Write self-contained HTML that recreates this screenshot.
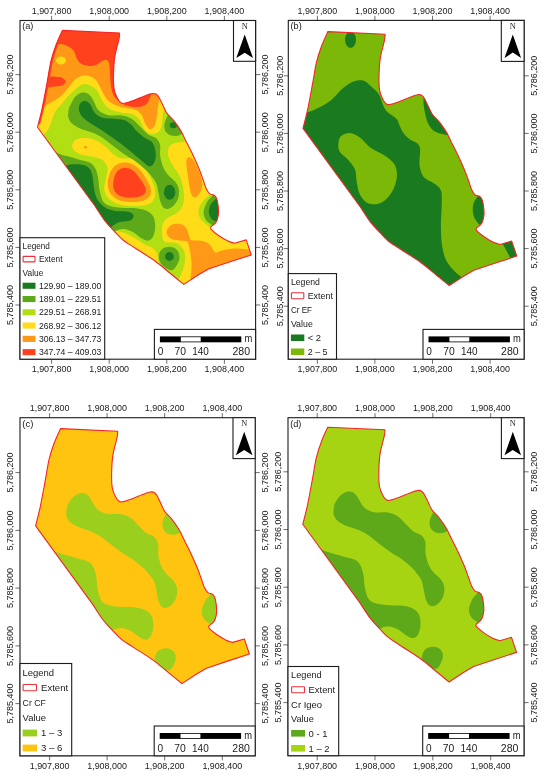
<!DOCTYPE html>
<html lang="en"><head><meta charset="utf-8"><title>Cr spatial distribution maps</title>
<style>html,body{margin:0;padding:0;background:#fff}svg{display:block}text{font-family:"Liberation Sans",Arial,sans-serif}</style></head><body>
<svg width="550" height="778" viewBox="0 0 550 778">
<defs><clipPath id="ext"><path d="M62.4,30.4L119.6,33C119.5,34 119.8,34.9 119,39C118.2,43.1 115.6,51.3 114.7,57.5C113.8,63.7 113.6,70.8 113.5,76C113.4,81.2 113.5,85.4 114.1,89C114.7,92.6 115.7,95.2 117.1,97.6C118.5,100 119.8,103 122.6,103.4C125.4,103.8 130.4,101.4 134,100.2C137.6,99 140.9,97.4 143.9,96.3C146.9,95.2 149.9,93.9 152,93.6C154.1,93.2 155.1,93.4 156.4,94.2C157.7,95 158.5,96.6 159.6,98.5C160.7,100.4 161.9,103.3 163.1,105.7C164.3,108.1 165,110.5 166.8,113.1C168.7,115.7 171.8,118.2 174.2,121.2C176.5,124.2 178.9,127.6 180.9,130.9C182.9,134.2 184,137.3 186,141.2C188,145.1 190.6,150.1 192.7,154.5C194.8,158.9 196.8,163.5 198.6,167.8C200.4,172.1 202.1,177 203.4,180.5C204.7,184 205.2,186.5 206.3,188.7C207.4,190.9 208.5,192.7 209.8,193.8C211.1,194.9 213.1,194.5 214.2,195.3C215.3,196.1 215.9,196.7 216.6,198.4C217.2,200.1 217.8,203 218.1,205.5C218.4,208 218.7,211.1 218.5,213.5C218.3,215.9 217.7,218.3 217.1,220C216.5,221.7 215.9,222.5 214.9,223.6C213.9,224.7 211.6,226.3 210.9,226.8C211,227.3 210,228.1 211.4,229.6C212.8,231.1 216.5,234.1 219.3,236C222.1,237.9 225.5,239.9 228,241.1C230.5,242.3 233.4,242.9 234.5,243.3L246.2,239.9L251.3,254.9L230.9,261.5L208.4,269L198.9,274.5L183.8,284.4C181.7,282.7 175.8,277.9 171,274C166.2,270.1 161,265.3 155,261C149,256.7 140.3,251.5 135,248C129.7,244.5 126.3,242.7 123,240C119.7,237.3 118,235.2 115,232C112,228.8 108.3,225.3 105,221C101.7,216.7 96.7,208.5 95,206L37.5,127.2C38.2,124.2 40.4,116.4 42,109C43.6,101.6 45.5,91 47,83C48.5,75 49.5,67.3 51,61C52.5,54.7 54.1,50.1 56,45C57.9,39.9 61.3,32.8 62.4,30.4Z"/></clipPath></defs>
<rect width="550" height="778" fill="#fff"/>
<g transform="translate(0,0)">
<g clip-path="url(#ext)">
<rect x="20" y="20" width="245" height="275" fill="#ffdc17"/>
<path d="M34,116C35.1,115.2 38.8,112.9 40.5,111.5C42.2,110.1 42.8,108.8 44,107.5C45.2,106.2 46.3,105.1 48,104C49.7,102.9 52.1,101.8 54,100.7C55.9,99.6 57.9,98.5 59.5,97.3C61.1,96.1 62.5,94.6 63.8,93.3C65.1,92 66.1,90.7 67.2,89.3C68.3,87.9 69.1,86.7 70.5,85C71.9,83.3 73.5,80.8 75.5,79.3C77.5,77.8 80,76.3 82.5,75.8C85,75.3 88.2,75.6 90.5,76.4C92.8,77.2 94.7,78.5 96.5,80.8C98.3,83.1 99.8,86.9 101.6,90C103.3,93.1 104.9,96.9 107,99.3C109.1,101.7 111.5,103.3 114,104.6C116.5,105.9 119.3,106.6 122,107.3C124.7,108 127.5,108 130,108.6C132.5,109.1 135,109.4 137,110.6C139,111.8 140.6,113.4 142,115.6C143.4,117.8 143.9,121.2 145.2,123.5C146.5,125.8 148.3,128.7 149.8,129.2C151.3,129.7 152.9,128.5 154,126.6C155.1,124.7 156,121.1 156.6,118C157.2,114.9 157.3,111 157.8,108C158.3,105 158.6,102.3 159.5,100C160.4,97.7 162.4,95 163,94L170,20L30,20Z" fill="#ff9717"/>
<path d="M107.6,185C107.3,181.2 108.4,175.4 110,172C111.6,168.6 114.2,166.1 117,164.5C119.8,162.9 123.5,162 127,162.6C130.5,163.2 134.8,165.3 138,168C141.2,170.7 143.8,174.8 146,178.5C148.2,182.2 150.7,186.8 151,190C151.3,193.2 150.2,196 148,198C145.8,200 142.3,201.3 138,201.8C133.7,202.3 126.4,202.1 122,201C117.6,199.9 113.9,197.7 111.5,195C109.1,192.3 107.8,188.8 107.6,185Z" fill="#ff9717"/>
<path d="M188.7,157.3C189.8,157.1 191.7,158.1 193.2,159.9C194.7,161.7 196.3,165.3 197.6,168.2C198.9,171.1 200.3,174.3 201.1,177.1C201.9,179.8 202.3,182.2 202.2,184.7C202.1,187.2 201.4,190.1 200.3,192.2C199.2,194.3 197.1,196.7 195.7,197.2C194.3,197.7 192.9,197 191.9,195.3C190.9,193.7 190.2,190.1 189.6,187.3C189,184.5 188.8,181.6 188.3,178.4C187.9,175.2 187.2,171.1 186.9,168.2C186.6,165.3 186,163 186.3,161.2C186.6,159.4 187.5,157.5 188.7,157.3Z" fill="#ff9717"/>
<path d="M166.6,232C166.7,230.2 168.1,227.8 169.5,226.5C170.9,225.2 172.8,224.3 175,224C177.2,223.7 180.5,223.9 182.5,224.8C184.5,225.7 185.9,227.6 187,229.5C188.1,231.4 188.4,234.1 189,236C189.6,237.9 191,240.2 190.5,241C190,241.8 187.8,241.1 186,241C184.2,240.9 182,240.7 180,240.5C178,240.3 175.8,240.4 174,239.8C172.2,239.2 170.2,238.3 169,237C167.8,235.7 166.5,233.8 166.6,232Z" fill="#ff9717"/>
<path d="M186.5,237C187.2,237.5 188.9,239.4 190.5,240C192.1,240.6 193.9,240.4 196,240.6C198.1,240.8 201.1,240.6 203.3,241.2C205.5,241.8 207.6,242.7 209.1,244C210.6,245.3 211.6,247.4 212.6,248.8C213.6,250.2 214,252.2 215.2,252.6C216.3,253 217.4,251.9 219.5,251.3C221.6,250.7 224.9,249.7 228,249.2C231.1,248.7 234.9,248.4 238.2,248.5C241.5,248.6 244.6,249.2 247.6,249.5C250.6,249.8 254.6,250.3 256,250.5L260,295L188,295L189.5,284C189.7,282.7 190.5,279.3 190.8,276C191.2,272.7 191.7,268.3 191.6,264.4C191.5,260.5 190.9,256.1 190.4,252.7C189.9,249.3 189.2,246.6 188.5,244C187.8,241.4 186.8,238.2 186.5,237Z" fill="#ff9717"/>
<ellipse cx="85.5" cy="147.3" rx="1.5" ry="1.2" fill="#ff9717"/>
<path d="M52,47.5C53,47 56.2,45.1 58,44.6C59.8,44.1 61,43.7 63,44.2C65,44.7 68.1,46.1 70,47.4C71.9,48.7 73.3,50 74.4,51.8C75.5,53.6 75.7,56.4 76.8,58.4C77.9,60.4 79,62.3 80.9,63.6C82.9,64.9 86,65.8 88.5,66C91,66.2 94,65.7 96.2,64.9C98.4,64.1 99.9,62.1 101.6,61.3C103.3,60.5 105.1,59.7 106.3,59.9C107.5,60.1 108.2,61 108.8,62.4C109.4,63.8 109.5,65.4 109.8,68.2C110,71 110,75.6 110.3,79.1C110.6,82.5 110.8,86 111.5,88.9C112.2,91.8 113,94.5 114.3,96.5C115.6,98.5 117.5,99.8 119.1,101.2C120.7,102.6 122.2,103.9 124,104.8C125.8,105.7 127.8,106.2 130,106.6C132.2,107 134.8,107.1 137,107C139.2,106.9 141.2,106.7 143,106C144.8,105.3 146.4,104.1 147.6,102.7C148.8,101.3 149.3,99.3 150,97.6C150.7,95.9 151.2,93.3 151.5,92.5L150,84L126,84L126,22L50,22Z" fill="#ff421d"/>
<path d="M43,76.3C44.2,76.3 47.8,76.3 50,76.4C52.2,76.5 54,76.5 56,76.7C58,76.9 60.4,77 62,77.8C63.6,78.6 65.5,80.3 65.6,81.5C65.7,82.7 64.1,84.4 62.5,85.2C60.9,86 58.1,86 56,86.3C53.9,86.6 52.3,86.9 50,87.2C47.7,87.5 43.3,87.9 42,88L38,82Z" fill="#ff421d"/>
<path d="M38.2,124C38.8,121.5 40.5,115.8 42,109C43.5,102.2 45.5,91 47,83C48.5,75 49.5,67.3 51,61C52.5,54.7 54.1,50.1 56,45C57.9,39.9 61.3,32.8 62.4,30.4" fill="none" stroke="#ff421d" stroke-width="3.8"/>
<path d="M38,138C39,137.4 42.2,136.2 44,134.5C45.8,132.8 47.7,130.4 49,128C50.3,125.6 51,122.7 52,120C53,117.3 53.3,114.8 55,112C56.7,109.2 59.5,106.4 62,103.5C64.5,100.6 67.3,97.3 70,94.6C72.7,91.8 75.4,88.8 78,87C80.6,85.2 83.2,84.1 85.5,84C87.8,83.9 89.6,85.1 91.5,86.2C93.4,87.3 95.3,88.2 97,90.5C98.7,92.8 100.2,97.1 101.7,99.7C103.2,102.3 104.4,104.3 106,106C107.6,107.7 109,108.6 111.5,109.7C114,110.8 117.9,111.8 121,112.5C124.1,113.2 127.6,113 130,113.6C132.4,114.2 133.8,114.8 135.5,116C137.2,117.2 138.6,118.4 140,120.6C141.4,122.8 142.4,126.9 144,129C145.6,131.1 147.9,132.7 149.8,133.4C151.8,134.1 154,133.9 155.7,133.3C157.4,132.7 158.9,131.9 160,130C161.1,128.1 161.7,124.8 162.2,122C162.7,119.2 162.5,115.8 163,113C163.5,110.2 163.8,107.2 165,105C166.2,102.8 169.2,100.8 170,100L178,100L200,138L190,141.6C188.7,141.7 185,141.6 182.3,141.9C179.6,142.2 176.2,142.3 174,143.2C171.8,144.1 169.8,145.4 168.8,147.5C167.9,149.6 167.8,152.8 168.3,155.5C168.8,158.2 170.5,161.2 172,164C173.5,166.8 175.7,169 177.3,172C178.9,175 180.7,178.1 181.8,181.8C182.9,185.5 183.7,190.1 183.9,194C184.1,197.9 184,201.8 182.8,205C181.7,208.2 179.5,210.9 177,213C174.5,215.1 170.3,215.9 168,217.6C165.7,219.3 164.2,220.9 163.2,223C162.2,225.1 162.2,227.7 162,230C161.8,232.3 161.9,235 162.3,237C162.7,239 163.4,240.9 164.5,241.8C165.6,242.7 167.4,242.5 169,242.6C170.6,242.7 172.2,242.2 174,242.6C175.8,243 177.9,243.7 179.5,245C181.1,246.3 182.8,248.3 183.8,250.5C184.8,252.7 185.3,255.1 185.3,258C185.3,260.9 184.4,265 183.6,268C182.8,271 181.4,273.7 180.3,276C179.2,278.3 177.6,281 177,282L168,288L150,268L160.5,266C160.1,265.2 158.9,263.1 158.3,261C157.7,258.9 157.9,255.6 157,253.5C156.1,251.4 155,249.8 153,248.3C151,246.9 148,246.5 145,244.8C142,243.1 138.3,240.2 135,238.3C131.7,236.4 128.1,234.5 125,233.3C121.9,232.1 119,231.1 116.5,231C114,230.9 111.1,232.7 110,233L98,232L30,130Z" fill="#b2de14"/>
<path d="M213,191C212.5,191.6 211.4,192.9 209.8,194.5C208.2,196.1 205.4,198 203.5,200.5C201.6,203 199.2,206.6 198.6,209.5C198,212.4 198.7,215.5 200,218C201.3,220.5 204.5,222.8 206.5,224.6C208.5,226.4 211.1,228.3 212,229L224,230L224,188Z" fill="#b2de14"/>
<path d="M72.2,145C72.5,143.2 73.7,141 76,139.8C78.3,138.6 82.5,137.6 86,137.8C89.5,138 93.7,139.5 97,141C100.3,142.5 103.3,144.8 106,147C108.7,149.2 110.5,152.1 113,154C115.5,155.9 117.8,157.5 121,158.3C124.2,159.1 128.6,157.4 132,158.6C135.4,159.8 138.7,162.8 141.5,165.5C144.3,168.2 146.9,171.4 149,175C151.1,178.6 153.2,183.3 154.2,187C155.2,190.7 155.7,194.2 154.8,197C153.9,199.8 152.1,202.5 149,204C145.9,205.5 140.8,205.9 136,206C131.2,206.1 124.6,205.8 120,204.5C115.4,203.2 111.1,201.1 108.5,198.5C105.9,195.9 104.7,192.4 104.3,189C103.9,185.6 105.5,181.4 106,178C106.5,174.6 108.1,171.4 107.6,168.5C107.1,165.6 105.4,162.2 103,160.3C100.6,158.4 96.7,157.8 93,156.8C89.3,155.8 84.2,155.6 81,154.5C77.8,153.4 75.5,151.9 74,150.3C72.5,148.7 71.9,146.8 72.2,145Z" fill="#ffdc17"/>
<path d="M107.8,185C107.5,181.2 108.7,175.9 110.2,172.5C111.7,169.1 114.2,166.2 117,164.5C119.8,162.8 123.5,162 127,162.6C130.5,163.2 134.8,165.3 138,168C141.2,170.7 143.8,174.8 146,178.5C148.2,182.2 150.7,186.8 151,190C151.3,193.2 150.2,196 148,198C145.8,200 142.3,201.3 138,201.8C133.7,202.3 126.4,202.1 122,201C117.6,199.9 114.1,197.7 111.7,195C109.3,192.3 108,188.8 107.8,185Z" fill="#ff9717"/>
<path d="M113.2,184C113.4,180.8 114.5,175.2 116.3,172.5C118.1,169.8 121.4,168.2 124,167.8C126.6,167.4 129.4,168 132,169.8C134.6,171.6 137.5,175.4 139.8,178.5C142.1,181.6 145,185.8 145.6,188.5C146.2,191.2 145.4,193.3 143.5,194.8C141.6,196.3 137.6,197.3 134,197.6C130.4,197.9 125.1,197.3 122,196.4C118.9,195.5 116.7,194.1 115.2,192C113.7,189.9 113,187.2 113.2,184Z" fill="#ff421d"/>
<ellipse cx="85.5" cy="147.3" rx="1.6" ry="1.3" fill="#ff9717"/>
<path d="M68.2,114C68.3,112.3 68.5,109.8 69,108C69.5,106.2 70.6,104.7 71.5,103C72.4,101.3 73.3,99.1 74.5,97.6C75.7,96.1 77.3,94.7 78.8,93.8C80.3,92.9 82,92.4 83.5,92.4C85,92.4 86.6,92.9 88,93.8C89.4,94.7 90.7,96.2 91.8,97.8C92.9,99.4 93.8,101.5 94.8,103.4C95.8,105.3 96.2,107.4 97.5,109C98.8,110.6 100.4,111.9 102.5,113C104.6,114.1 106.8,115.1 110,115.5C113.2,115.9 118.3,114.8 122,115.4C125.7,116 128.9,117 132,118.9C135.1,120.8 137.8,124.4 140.5,127C143.2,129.6 145.5,132.6 148,134.4C150.5,136.2 153.5,136.1 155.5,137.8C157.5,139.5 159.2,141.5 160,144.5C160.8,147.5 159.6,152.1 160.2,156C160.8,159.9 162,164.7 163.5,168C165,171.3 167,173.7 169,176C171,178.3 173.9,179.8 175.5,182C177.1,184.2 178.3,186.5 178.8,189C179.3,191.5 179.1,194.5 178.5,197C177.9,199.5 176.5,202.1 175,204C173.5,205.9 171.3,207.8 169.5,208.5C167.7,209.2 165.5,209.1 164,208C162.5,206.9 161.4,204.5 160.5,202C159.6,199.5 159.2,196 158.5,193C157.8,190 157.5,186.6 156.5,184C155.5,181.4 154.1,179.7 152.5,177.5C150.9,175.3 149.6,173.5 147,171C144.4,168.5 140.8,165.2 137,162.4C133.2,159.6 128.2,156.9 124,154C119.8,151.1 115.7,147.8 112,145C108.3,142.2 105.3,139.6 102,137.5C98.7,135.4 95.7,134 92,132.5C88.3,131 83.3,130 80,128.5C76.7,127 73.9,125.2 72,123.5C70.1,121.8 69.1,119.6 68.5,118C67.9,116.4 68.1,115.7 68.2,114Z" fill="#5da919"/>
<path d="M52,148C52.9,148.8 54.8,151.6 57.3,152.9C59.8,154.2 63.1,155 66.8,156.1C70.5,157.2 75.7,158.6 79.5,159.7C83.3,160.8 86.9,161.2 89.5,162.6C92.1,164 93.6,165.6 95,168C96.4,170.4 97.2,173.3 98,177C98.8,180.7 98.6,185.8 99.5,190C100.4,194.2 101.4,199.2 103.5,202C105.6,204.8 108.6,205.5 112,206.5C115.4,207.5 120,207.7 124,208C128,208.3 132.2,207.8 136,208.3C139.8,208.8 144.1,209.6 147,211C149.9,212.4 152.1,214.3 153.5,217C154.9,219.7 155.2,223.8 155.2,227C155.2,230.2 154.4,233.7 153.3,236C152.2,238.3 150.5,240.2 148.5,240.6C146.5,241 144.1,239.7 141.5,238.3C138.9,236.9 136,233.6 133,232C130,230.4 126.2,229.2 123.5,229C120.8,228.8 118.4,229.8 116.5,230.5C114.6,231.2 112.8,232.6 112,233L100,232L45,150Z" fill="#5da919"/>
<path d="M170,111C169.6,111.9 168.1,114.8 167.3,116.5C166.5,118.2 165.5,119.7 165,121.5C164.5,123.3 164.1,125.5 164.3,127.2C164.5,128.9 165,130.7 166,132C167,133.3 168.8,134.6 170.5,135.3C172.2,136 174.2,136.1 176,136C177.8,135.9 179.5,135.3 181,134.6C182.5,133.9 184.3,132.4 185,132L190,125L178,108Z" fill="#5da919"/>
<path d="M214,192.5C213.6,193.2 212.7,194.9 211.5,196.5C210.3,198.1 208.3,199.4 207,202C205.7,204.6 203.8,209 203.6,212C203.4,215 204.7,217.9 206,220C207.3,222.1 209.9,223.3 211.3,224.4C212.7,225.5 214,226.2 214.5,226.5L224,228L224,190Z" fill="#5da919"/>
<path d="M158.8,255C159.1,252.9 160.3,250.6 162,249.2C163.7,247.8 166.6,246.9 168.7,246.7C170.8,246.5 172.9,247.1 174.5,248C176.1,248.9 177.5,250.2 178.3,252C179.1,253.8 179.8,256.5 179.4,259C179,261.5 177.1,264.9 175.8,266.8C174.5,268.7 173.3,270.2 171.5,270.3C169.7,270.4 166.9,269 165,267.6C163.1,266.2 161,264.1 160,262C159,259.9 158.5,257.1 158.8,255Z" fill="#5da919"/>
<path d="M79,107C79.3,105.5 80,103.5 81,102.5C82,101.5 83.5,100.8 85,101C86.5,101.2 88.4,102.1 90,104C91.6,105.9 92.4,110.2 94.5,112.5C96.6,114.8 99.2,116.8 102.5,117.8C105.8,118.8 110.4,118.4 114,118.8C117.6,119.2 121.2,119 124,120C126.8,121 128.8,122.7 131,124.6C133.2,126.5 134.8,129.5 137,131.6C139.2,133.7 141.6,135.7 144,137.4C146.4,139.1 149.7,139.7 151.5,141.6C153.3,143.5 154.3,146.3 155,149C155.7,151.7 156,155.3 155.6,158C155.2,160.7 153.9,163.7 152.6,165C151.3,166.3 150.1,166.8 148,165.8C145.9,164.8 143,161.7 140,159.2C137,156.7 133.3,153.7 130,151C126.7,148.3 123.3,145.5 120,143C116.7,140.5 113.3,138.3 110,136C106.7,133.7 103.3,131.2 100,129C96.7,126.8 92.9,125 90,123C87.1,121 84.3,118.9 82.5,117C80.7,115.1 79.9,113.2 79.3,111.5C78.7,109.8 78.7,108.5 79,107Z" fill="#1a7a1f"/>
<path d="M59,168C60.2,167.6 63.5,165.9 66,165.3C68.5,164.7 71.1,164.2 74,164.2C76.9,164.1 80.9,164.2 83.5,165C86.1,165.8 88.3,167 89.8,169C91.3,171 91.9,173.7 92.6,177C93.3,180.3 93.5,185.4 94.2,189C94.9,192.6 95.2,195.5 96.8,198.5C98.4,201.5 101.1,204.8 104,206.8C106.9,208.9 110.3,210 114,210.8C117.7,211.6 123.1,211.2 126,211.6C128.9,212 130.2,212.2 131.5,213C132.8,213.8 133.8,215.2 133.6,216.5C133.3,217.8 132.4,219.5 130,220.5C127.6,221.5 121.9,221.4 119,222.3C116.1,223.2 114.3,224.7 112.5,226C110.7,227.3 108.8,229.3 108,230L98,230L55,168Z" fill="#1a7a1f"/>
<ellipse cx="169.6" cy="192.2" rx="5.7" ry="7.5" fill="#1a7a1f"/>
<ellipse cx="173.4" cy="125.2" rx="3.7" ry="3" fill="#1a7a1f"/>
<ellipse cx="169.4" cy="256.5" rx="4.4" ry="4.4" fill="#1a7a1f"/>
<path d="M217,197.5C216.6,197.9 215.7,198.8 214.6,200C213.5,201.2 211.5,203.1 210.5,205C209.5,206.9 208.9,209.4 208.8,211.3C208.7,213.2 209.3,215.1 210,216.5C210.7,217.9 211.6,219.2 212.8,220C214,220.8 216.3,221.2 217,221.5L224,222L224,196Z" fill="#1a7a1f"/>
<ellipse cx="61" cy="60.5" rx="5" ry="4" fill="#ffdc17"/>
</g>
<path d="M62.4,30.4L119.6,33C119.5,34 119.8,34.9 119,39C118.2,43.1 115.6,51.3 114.7,57.5C113.8,63.7 113.6,70.8 113.5,76C113.4,81.2 113.5,85.4 114.1,89C114.7,92.6 115.7,95.2 117.1,97.6C118.5,100 119.8,103 122.6,103.4C125.4,103.8 130.4,101.4 134,100.2C137.6,99 140.9,97.4 143.9,96.3C146.9,95.2 149.9,93.9 152,93.6C154.1,93.2 155.1,93.4 156.4,94.2C157.7,95 158.5,96.6 159.6,98.5C160.7,100.4 161.9,103.3 163.1,105.7C164.3,108.1 165,110.5 166.8,113.1C168.7,115.7 171.8,118.2 174.2,121.2C176.5,124.2 178.9,127.6 180.9,130.9C182.9,134.2 184,137.3 186,141.2C188,145.1 190.6,150.1 192.7,154.5C194.8,158.9 196.8,163.5 198.6,167.8C200.4,172.1 202.1,177 203.4,180.5C204.7,184 205.2,186.5 206.3,188.7C207.4,190.9 208.5,192.7 209.8,193.8C211.1,194.9 213.1,194.5 214.2,195.3C215.3,196.1 215.9,196.7 216.6,198.4C217.2,200.1 217.8,203 218.1,205.5C218.4,208 218.7,211.1 218.5,213.5C218.3,215.9 217.7,218.3 217.1,220C216.5,221.7 215.9,222.5 214.9,223.6C213.9,224.7 211.6,226.3 210.9,226.8C211,227.3 210,228.1 211.4,229.6C212.8,231.1 216.5,234.1 219.3,236C222.1,237.9 225.5,239.9 228,241.1C230.5,242.3 233.4,242.9 234.5,243.3L246.2,239.9L251.3,254.9L230.9,261.5L208.4,269L198.9,274.5L183.8,284.4C181.7,282.7 175.8,277.9 171,274C166.2,270.1 161,265.3 155,261C149,256.7 140.3,251.5 135,248C129.7,244.5 126.3,242.7 123,240C119.7,237.3 118,235.2 115,232C112,228.8 108.3,225.3 105,221C101.7,216.7 96.7,208.5 95,206L37.5,127.2C38.2,124.2 40.4,116.4 42,109C43.6,101.6 45.5,91 47,83C48.5,75 49.5,67.3 51,61C52.5,54.7 54.1,50.1 56,45C57.9,39.9 61.3,32.8 62.4,30.4Z" fill="none" stroke="#f5242c" stroke-width="1.1" stroke-linejoin="round"/>
</g>
<g transform="translate(265.5,1.2)">
<g clip-path="url(#ext)">
<rect x="20" y="20" width="245" height="275" fill="#7bb807"/>
<path d="M32.5,114.8C33.9,114.3 37.7,112.9 41,111.6C44.3,110.3 48.5,108.8 52.5,106.8C56.5,104.8 61,102.7 65.2,99.3C69.4,95.9 74.1,89.8 77.9,86.6C81.7,83.4 84.7,81.5 88.1,80.3C91.5,79.1 95.1,78.5 98.3,79.5C101.5,80.5 104.8,84.5 107.2,86.6C109.6,88.7 111.4,90.4 112.8,92.3C114.2,94.2 114.8,96 115.5,97.8C116.2,99.6 116.5,101.4 117.3,103.3C118.1,105.2 119.1,107.6 120.5,109.3C121.9,111 123.7,112.1 125.5,113.6C127.3,115 129.9,116.2 131.3,118C132.8,119.8 133.1,122.2 134.2,124.5C135.3,126.8 136.2,129.5 137.9,131.8C139.6,134.1 142.1,136.6 144.4,138.3C146.7,140 150,140.4 151.7,142C153.4,143.6 154.2,145.4 154.6,147.8C155,150.2 154.2,153.6 154.1,156.5C154.1,159.4 153.6,162.3 154.3,165.5C155,168.7 155.8,172.9 158.1,175.7C160.4,178.5 165.4,179.9 168.3,182.1C171.2,184.4 174.1,185.7 175.4,189.2C176.7,192.7 176.2,197.2 176.2,203.3C176.2,209.4 175.3,218.9 175.4,226C175.5,233.1 175.9,240.2 176.8,245.8C177.7,251.5 179,255.9 181,259.9C183,263.9 186.3,267.2 188.7,269.8C191.1,272.4 194.4,274.4 195.5,275.3L186.5,298.8L64.5,283.8L19.5,138.8Z" fill="#1a7a1f"/>
<path d="M72.9,142.6C73.1,140.1 73.5,136.8 75.4,135C77.3,133.2 81.1,131.7 84.3,131.9C87.5,132.1 91.1,133.9 94.5,136.3C97.9,138.7 100.7,143.4 104.7,146.4C108.7,149.4 114.7,151.3 118.7,154.1C122.7,156.9 126.8,159.4 128.9,163C131,166.6 131.8,171 131.4,175.7C131,180.4 128.8,186.8 126.3,191C123.8,195.2 119.9,199.3 116.1,201.2C112.3,203.1 107,203.7 103.4,202.4C99.8,201.1 96.5,197.1 94.5,193.5C92.5,189.9 92,185 91.2,180.8C90.3,176.6 91,171.9 89.4,168.1C87.8,164.3 84.4,160.9 81.8,157.9C79.3,154.9 75.6,152.8 74.1,150.2C72.6,147.7 72.7,145.1 72.9,142.6Z" fill="#7bb807"/>
<ellipse cx="85" cy="38.6" rx="5.5" ry="8.2" fill="#1a7a1f"/>
<path d="M158.1,92.8C158.1,94.5 157.9,99.6 158.1,102.8C158.3,106 158.8,108.8 159.5,111.8C160.2,114.8 160.8,118 162,120.8C163.2,123.6 165.1,126.7 167,128.6C168.9,130.5 171.1,131.1 173.5,132C175.9,132.9 180.2,133.5 181.5,133.8L190.5,132.8L170.5,94.8Z" fill="#1a7a1f"/>
<path d="M215.5,191.8C214.9,192.4 213.3,193.7 212.1,195.4C210.9,197.1 209,199.5 208.2,201.8C207.4,204.1 207.2,206.5 207.3,209C207.4,211.5 207.9,214.5 209,216.8C210.1,219.2 212.2,221.4 213.6,223.1C215,224.8 216.8,226.2 217.5,226.8L226.5,226.8L226.5,190.8Z" fill="#1a7a1f"/>
<path d="M236.8,241.8L246.5,259.8L264.5,259.8L264.5,234.8Z" fill="#1a7a1f"/>
</g>
<path d="M62.4,30.4L119.6,33C119.5,34 119.8,34.9 119,39C118.2,43.1 115.6,51.3 114.7,57.5C113.8,63.7 113.6,70.8 113.5,76C113.4,81.2 113.5,85.4 114.1,89C114.7,92.6 115.7,95.2 117.1,97.6C118.5,100 119.8,103 122.6,103.4C125.4,103.8 130.4,101.4 134,100.2C137.6,99 140.9,97.4 143.9,96.3C146.9,95.2 149.9,93.9 152,93.6C154.1,93.2 155.1,93.4 156.4,94.2C157.7,95 158.5,96.6 159.6,98.5C160.7,100.4 161.9,103.3 163.1,105.7C164.3,108.1 165,110.5 166.8,113.1C168.7,115.7 171.8,118.2 174.2,121.2C176.5,124.2 178.9,127.6 180.9,130.9C182.9,134.2 184,137.3 186,141.2C188,145.1 190.6,150.1 192.7,154.5C194.8,158.9 196.8,163.5 198.6,167.8C200.4,172.1 202.1,177 203.4,180.5C204.7,184 205.2,186.5 206.3,188.7C207.4,190.9 208.5,192.7 209.8,193.8C211.1,194.9 213.1,194.5 214.2,195.3C215.3,196.1 215.9,196.7 216.6,198.4C217.2,200.1 217.8,203 218.1,205.5C218.4,208 218.7,211.1 218.5,213.5C218.3,215.9 217.7,218.3 217.1,220C216.5,221.7 215.9,222.5 214.9,223.6C213.9,224.7 211.6,226.3 210.9,226.8C211,227.3 210,228.1 211.4,229.6C212.8,231.1 216.5,234.1 219.3,236C222.1,237.9 225.5,239.9 228,241.1C230.5,242.3 233.4,242.9 234.5,243.3L246.2,239.9L251.3,254.9L230.9,261.5L208.4,269L198.9,274.5L183.8,284.4C181.7,282.7 175.8,277.9 171,274C166.2,270.1 161,265.3 155,261C149,256.7 140.3,251.5 135,248C129.7,244.5 126.3,242.7 123,240C119.7,237.3 118,235.2 115,232C112,228.8 108.3,225.3 105,221C101.7,216.7 96.7,208.5 95,206L37.5,127.2C38.2,124.2 40.4,116.4 42,109C43.6,101.6 45.5,91 47,83C48.5,75 49.5,67.3 51,61C52.5,54.7 54.1,50.1 56,45C57.9,39.9 61.3,32.8 62.4,30.4Z" fill="none" stroke="#f5242c" stroke-width="1.1" stroke-linejoin="round"/>
</g>
<g transform="translate(-1.9,398.1) scale(1,1.004)">
<g clip-path="url(#ext)">
<rect x="20" y="20" width="245" height="275" fill="#ffc40f"/>
<path d="M68.2,114C68.3,112.3 68.5,109.8 69,108C69.5,106.2 70.5,104.5 71.5,103C72.5,101.5 73.7,100 75,98.8C76.3,97.6 78,96.3 79.5,95.6C81,94.9 82.6,94.4 84,94.4C85.4,94.4 86.8,94.7 88,95.5C89.2,96.3 90.4,97.6 91.5,99C92.6,100.4 93.5,102.3 94.5,104C95.5,105.7 96.2,107.5 97.5,109C98.8,110.5 100.4,111.9 102.5,113C104.6,114.1 106.8,115.1 110,115.5C113.2,115.9 118.3,114.8 122,115.4C125.7,116 128.9,117 132,118.9C135.1,120.8 137.8,124.4 140.5,127C143.2,129.6 145.5,132.6 148,134.4C150.5,136.2 153.5,136.1 155.5,137.8C157.5,139.5 159.2,141.5 160,144.5C160.8,147.5 159.6,152.1 160.2,156C160.8,159.9 162,164.7 163.5,168C165,171.3 167,173.7 169,176C171,178.3 173.9,179.8 175.5,182C177.1,184.2 178.3,186.5 178.8,189C179.3,191.5 179.1,194.5 178.5,197C177.9,199.5 176.5,202.1 175,204C173.5,205.9 171.3,207.8 169.5,208.5C167.7,209.2 165.5,209.1 164,208C162.5,206.9 161.4,204.5 160.5,202C159.6,199.5 159.2,196 158.5,193C157.8,190 157.5,186.6 156.5,184C155.5,181.4 154.1,179.7 152.5,177.5C150.9,175.3 149.6,173.5 147,171C144.4,168.5 140.8,165.2 137,162.4C133.2,159.6 128.2,156.9 124,154C119.8,151.1 115.7,147.8 112,145C108.3,142.2 105.3,139.6 102,137.5C98.7,135.4 95.7,134 92,132.5C88.3,131 83.3,130 80,128.5C76.7,127 73.9,125.2 72,123.5C70.1,121.8 69.1,119.6 68.5,118C67.9,116.4 68.1,115.7 68.2,114Z" fill="#9bcf1e"/>
<path d="M52,148C52.9,148.8 54.8,151.6 57.3,152.9C59.8,154.2 63.1,155 66.8,156.1C70.5,157.2 75.7,158.6 79.5,159.7C83.3,160.8 86.9,161.2 89.5,162.6C92.1,164 93.6,165.6 95,168C96.4,170.4 97.2,173.3 98,177C98.8,180.7 98.6,185.8 99.5,190C100.4,194.2 101.4,199.2 103.5,202C105.6,204.8 108.6,205.5 112,206.5C115.4,207.5 120,207.7 124,208C128,208.3 132.2,207.8 136,208.3C139.8,208.8 144.1,209.6 147,211C149.9,212.4 152.1,214.3 153.5,217C154.9,219.7 155.2,223.8 155.2,227C155.2,230.2 154.4,233.7 153.3,236C152.2,238.3 150.5,240.2 148.5,240.6C146.5,241 144.1,239.7 141.5,238.3C138.9,236.9 136,233.6 133,232C130,230.4 126.2,229.2 123.5,229C120.8,228.8 118.4,229.8 116.5,230.5C114.6,231.2 112.8,232.6 112,233L100,232L45,150Z" fill="#9bcf1e"/>
<path d="M170,111C169.6,111.9 168.1,114.8 167.3,116.5C166.5,118.2 165.5,119.7 165,121.5C164.5,123.3 164.1,125.5 164.3,127.2C164.5,128.9 165,130.7 166,132C167,133.3 168.8,134.6 170.5,135.3C172.2,136 174.2,136.1 176,136C177.8,135.9 179.5,135.3 181,134.6C182.5,133.9 184.3,132.4 185,132L190,125L178,108Z" fill="#9bcf1e"/>
<path d="M214,192.5C213.6,193.2 212.7,194.9 211.5,196.5C210.3,198.1 208.3,199.4 207,202C205.7,204.6 203.8,209 203.6,212C203.4,215 204.7,217.9 206,220C207.3,222.1 209.9,223.3 211.3,224.4C212.7,225.5 214,226.2 214.5,226.5L224,228L224,190Z" fill="#9bcf1e"/>
<path d="M157.5,256C158.1,254.1 159,252.6 160.5,251.5C162,250.4 164.5,249.5 166.5,249.3C168.5,249.1 170.8,249.4 172.5,250.2C174.2,251 175.8,252.4 176.6,254C177.4,255.6 177.9,257.9 177.6,260C177.3,262.1 176,264.7 175,266.5C174,268.3 173.2,270.4 171.5,271C169.8,271.6 167.4,271.3 165,270C162.6,268.7 158.2,265.3 157,263C155.8,260.7 156.9,257.9 157.5,256Z" fill="#9bcf1e"/>
</g>
<path d="M62.4,30.4L119.6,33C119.5,34 119.8,34.9 119,39C118.2,43.1 115.6,51.3 114.7,57.5C113.8,63.7 113.6,70.8 113.5,76C113.4,81.2 113.5,85.4 114.1,89C114.7,92.6 115.7,95.2 117.1,97.6C118.5,100 119.8,103 122.6,103.4C125.4,103.8 130.4,101.4 134,100.2C137.6,99 140.9,97.4 143.9,96.3C146.9,95.2 149.9,93.9 152,93.6C154.1,93.2 155.1,93.4 156.4,94.2C157.7,95 158.5,96.6 159.6,98.5C160.7,100.4 161.9,103.3 163.1,105.7C164.3,108.1 165,110.5 166.8,113.1C168.7,115.7 171.8,118.2 174.2,121.2C176.5,124.2 178.9,127.6 180.9,130.9C182.9,134.2 184,137.3 186,141.2C188,145.1 190.6,150.1 192.7,154.5C194.8,158.9 196.8,163.5 198.6,167.8C200.4,172.1 202.1,177 203.4,180.5C204.7,184 205.2,186.5 206.3,188.7C207.4,190.9 208.5,192.7 209.8,193.8C211.1,194.9 213.1,194.5 214.2,195.3C215.3,196.1 215.9,196.7 216.6,198.4C217.2,200.1 217.8,203 218.1,205.5C218.4,208 218.7,211.1 218.5,213.5C218.3,215.9 217.7,218.3 217.1,220C216.5,221.7 215.9,222.5 214.9,223.6C213.9,224.7 211.6,226.3 210.9,226.8C211,227.3 210,228.1 211.4,229.6C212.8,231.1 216.5,234.1 219.3,236C222.1,237.9 225.5,239.9 228,241.1C230.5,242.3 233.4,242.9 234.5,243.3L246.2,239.9L251.3,254.9L230.9,261.5L208.4,269L198.9,274.5L183.8,284.4C181.7,282.7 175.8,277.9 171,274C166.2,270.1 161,265.3 155,261C149,256.7 140.3,251.5 135,248C129.7,244.5 126.3,242.7 123,240C119.7,237.3 118,235.2 115,232C112,228.8 108.3,225.3 105,221C101.7,216.7 96.7,208.5 95,206L37.5,127.2C38.2,124.2 40.4,116.4 42,109C43.6,101.6 45.5,91 47,83C48.5,75 49.5,67.3 51,61C52.5,54.7 54.1,50.1 56,45C57.9,39.9 61.3,32.8 62.4,30.4Z" fill="none" stroke="#f5242c" stroke-width="1.1" stroke-linejoin="round"/>
</g>
<g transform="translate(265.3,396.7) scale(1,1.003)">
<g clip-path="url(#ext)">
<rect x="20" y="20" width="245" height="275" fill="#a6d412"/>
<path d="M68.2,114C68.3,112.3 68.5,109.8 69,108C69.5,106.2 70.5,104.5 71.5,103C72.5,101.5 73.7,100 75,98.8C76.3,97.6 78,96.3 79.5,95.6C81,94.9 82.6,94.4 84,94.4C85.4,94.4 86.8,94.7 88,95.5C89.2,96.3 90.4,97.6 91.5,99C92.6,100.4 93.5,102.3 94.5,104C95.5,105.7 96.2,107.5 97.5,109C98.8,110.5 100.4,111.9 102.5,113C104.6,114.1 106.8,115.1 110,115.5C113.2,115.9 118.3,114.8 122,115.4C125.7,116 128.9,117 132,118.9C135.1,120.8 137.8,124.4 140.5,127C143.2,129.6 145.5,132.6 148,134.4C150.5,136.2 153.5,136.1 155.5,137.8C157.5,139.5 159.2,141.5 160,144.5C160.8,147.5 159.6,152.1 160.2,156C160.8,159.9 162,164.7 163.5,168C165,171.3 167,173.7 169,176C171,178.3 173.9,179.8 175.5,182C177.1,184.2 178.3,186.5 178.8,189C179.3,191.5 179.1,194.5 178.5,197C177.9,199.5 176.5,202.1 175,204C173.5,205.9 171.3,207.8 169.5,208.5C167.7,209.2 165.5,209.1 164,208C162.5,206.9 161.4,204.5 160.5,202C159.6,199.5 159.2,196 158.5,193C157.8,190 157.5,186.6 156.5,184C155.5,181.4 154.1,179.7 152.5,177.5C150.9,175.3 149.6,173.5 147,171C144.4,168.5 140.8,165.2 137,162.4C133.2,159.6 128.2,156.9 124,154C119.8,151.1 115.7,147.8 112,145C108.3,142.2 105.3,139.6 102,137.5C98.7,135.4 95.7,134 92,132.5C88.3,131 83.3,130 80,128.5C76.7,127 73.9,125.2 72,123.5C70.1,121.8 69.1,119.6 68.5,118C67.9,116.4 68.1,115.7 68.2,114Z" fill="#5da919"/>
<path d="M52,148C52.9,148.8 54.8,151.6 57.3,152.9C59.8,154.2 63.1,155 66.8,156.1C70.5,157.2 75.7,158.6 79.5,159.7C83.3,160.8 86.9,161.2 89.5,162.6C92.1,164 93.6,165.6 95,168C96.4,170.4 97.2,173.3 98,177C98.8,180.7 98.6,185.8 99.5,190C100.4,194.2 101.4,199.2 103.5,202C105.6,204.8 108.6,205.5 112,206.5C115.4,207.5 120,207.7 124,208C128,208.3 132.2,207.8 136,208.3C139.8,208.8 144.1,209.6 147,211C149.9,212.4 152.1,214.3 153.5,217C154.9,219.7 155.2,223.8 155.2,227C155.2,230.2 154.4,233.7 153.3,236C152.2,238.3 150.5,240.2 148.5,240.6C146.5,241 144.1,239.7 141.5,238.3C138.9,236.9 136,233.6 133,232C130,230.4 126.2,229.2 123.5,229C120.8,228.8 118.4,229.8 116.5,230.5C114.6,231.2 112.8,232.6 112,233L100,232L45,150Z" fill="#5da919"/>
<path d="M170,111C169.6,111.9 168.1,114.8 167.3,116.5C166.5,118.2 165.5,119.7 165,121.5C164.5,123.3 164.1,125.5 164.3,127.2C164.5,128.9 165,130.7 166,132C167,133.3 168.8,134.6 170.5,135.3C172.2,136 174.2,136.1 176,136C177.8,135.9 179.5,135.3 181,134.6C182.5,133.9 184.3,132.4 185,132L190,125L178,108Z" fill="#5da919"/>
<path d="M214,192.5C213.6,193.2 212.7,194.9 211.5,196.5C210.3,198.1 208.3,199.4 207,202C205.7,204.6 203.8,209 203.6,212C203.4,215 204.7,217.9 206,220C207.3,222.1 209.9,223.3 211.3,224.4C212.7,225.5 214,226.2 214.5,226.5L224,228L224,190Z" fill="#5da919"/>
<path d="M157.5,256C158.1,254.1 159,252.6 160.5,251.5C162,250.4 164.5,249.5 166.5,249.3C168.5,249.1 170.8,249.4 172.5,250.2C174.2,251 175.8,252.4 176.6,254C177.4,255.6 177.9,257.9 177.6,260C177.3,262.1 176,264.7 175,266.5C174,268.3 173.2,270.4 171.5,271C169.8,271.6 167.4,271.3 165,270C162.6,268.7 158.2,265.3 157,263C155.8,260.7 156.9,257.9 157.5,256Z" fill="#5da919"/>
</g>
<path d="M62.4,30.4L119.6,33C119.5,34 119.8,34.9 119,39C118.2,43.1 115.6,51.3 114.7,57.5C113.8,63.7 113.6,70.8 113.5,76C113.4,81.2 113.5,85.4 114.1,89C114.7,92.6 115.7,95.2 117.1,97.6C118.5,100 119.8,103 122.6,103.4C125.4,103.8 130.4,101.4 134,100.2C137.6,99 140.9,97.4 143.9,96.3C146.9,95.2 149.9,93.9 152,93.6C154.1,93.2 155.1,93.4 156.4,94.2C157.7,95 158.5,96.6 159.6,98.5C160.7,100.4 161.9,103.3 163.1,105.7C164.3,108.1 165,110.5 166.8,113.1C168.7,115.7 171.8,118.2 174.2,121.2C176.5,124.2 178.9,127.6 180.9,130.9C182.9,134.2 184,137.3 186,141.2C188,145.1 190.6,150.1 192.7,154.5C194.8,158.9 196.8,163.5 198.6,167.8C200.4,172.1 202.1,177 203.4,180.5C204.7,184 205.2,186.5 206.3,188.7C207.4,190.9 208.5,192.7 209.8,193.8C211.1,194.9 213.1,194.5 214.2,195.3C215.3,196.1 215.9,196.7 216.6,198.4C217.2,200.1 217.8,203 218.1,205.5C218.4,208 218.7,211.1 218.5,213.5C218.3,215.9 217.7,218.3 217.1,220C216.5,221.7 215.9,222.5 214.9,223.6C213.9,224.7 211.6,226.3 210.9,226.8C211,227.3 210,228.1 211.4,229.6C212.8,231.1 216.5,234.1 219.3,236C222.1,237.9 225.5,239.9 228,241.1C230.5,242.3 233.4,242.9 234.5,243.3L246.2,239.9L251.3,254.9L230.9,261.5L208.4,269L198.9,274.5L183.8,284.4C181.7,282.7 175.8,277.9 171,274C166.2,270.1 161,265.3 155,261C149,256.7 140.3,251.5 135,248C129.7,244.5 126.3,242.7 123,240C119.7,237.3 118,235.2 115,232C112,228.8 108.3,225.3 105,221C101.7,216.7 96.7,208.5 95,206L37.5,127.2C38.2,124.2 40.4,116.4 42,109C43.6,101.6 45.5,91 47,83C48.5,75 49.5,67.3 51,61C52.5,54.7 54.1,50.1 56,45C57.9,39.9 61.3,32.8 62.4,30.4Z" fill="none" stroke="#f5242c" stroke-width="1.1" stroke-linejoin="round"/>
</g>
<path d="M51.6,20.5v-4.6M51.6,359.2v4.6" stroke="#4a4a4a" stroke-width="0.8" fill="none"/>
<path d="M109.2,20.5v-4.6M109.2,359.2v4.6" stroke="#4a4a4a" stroke-width="0.8" fill="none"/>
<path d="M166.8,20.5v-4.6M166.8,359.2v4.6" stroke="#4a4a4a" stroke-width="0.8" fill="none"/>
<path d="M224.4,20.5v-4.6M224.4,359.2v4.6" stroke="#4a4a4a" stroke-width="0.8" fill="none"/>
<path d="M20,74.6h-4.6M255.6,74.6h4.6" stroke="#4a4a4a" stroke-width="0.8" fill="none"/>
<path d="M20,132.2h-4.6M255.6,132.2h4.6" stroke="#4a4a4a" stroke-width="0.8" fill="none"/>
<path d="M20,189.8h-4.6M255.6,189.8h4.6" stroke="#4a4a4a" stroke-width="0.8" fill="none"/>
<path d="M20,247.4h-4.6M255.6,247.4h4.6" stroke="#4a4a4a" stroke-width="0.8" fill="none"/>
<path d="M20,305h-4.6M255.6,305h4.6" stroke="#4a4a4a" stroke-width="0.8" fill="none"/>
<text x="51.6" y="13.8" font-size="8.8" text-anchor="middle" textLength="39.8" lengthAdjust="spacingAndGlyphs" fill="#1a1a1a">1,907,800</text>
<text x="51.6" y="371.6" font-size="8.8" text-anchor="middle" textLength="39.8" lengthAdjust="spacingAndGlyphs" fill="#1a1a1a">1,907,800</text>
<text x="109.2" y="13.8" font-size="8.8" text-anchor="middle" textLength="39.8" lengthAdjust="spacingAndGlyphs" fill="#1a1a1a">1,908,000</text>
<text x="109.2" y="371.6" font-size="8.8" text-anchor="middle" textLength="39.8" lengthAdjust="spacingAndGlyphs" fill="#1a1a1a">1,908,000</text>
<text x="166.8" y="13.8" font-size="8.8" text-anchor="middle" textLength="39.8" lengthAdjust="spacingAndGlyphs" fill="#1a1a1a">1,908,200</text>
<text x="166.8" y="371.6" font-size="8.8" text-anchor="middle" textLength="39.8" lengthAdjust="spacingAndGlyphs" fill="#1a1a1a">1,908,200</text>
<text x="224.4" y="13.8" font-size="8.8" text-anchor="middle" textLength="39.8" lengthAdjust="spacingAndGlyphs" fill="#1a1a1a">1,908,400</text>
<text x="224.4" y="371.6" font-size="8.8" text-anchor="middle" textLength="39.8" lengthAdjust="spacingAndGlyphs" fill="#1a1a1a">1,908,400</text>
<text transform="translate(13.1,74.6) rotate(-90)" font-size="8.7" text-anchor="middle" textLength="40" lengthAdjust="spacingAndGlyphs" fill="#1a1a1a">5,786,200</text>
<text transform="translate(268.1,74.6) rotate(-90)" font-size="8.7" text-anchor="middle" textLength="40" lengthAdjust="spacingAndGlyphs" fill="#1a1a1a">5,786,200</text>
<text transform="translate(13.1,132.2) rotate(-90)" font-size="8.7" text-anchor="middle" textLength="40" lengthAdjust="spacingAndGlyphs" fill="#1a1a1a">5,786,000</text>
<text transform="translate(268.1,132.2) rotate(-90)" font-size="8.7" text-anchor="middle" textLength="40" lengthAdjust="spacingAndGlyphs" fill="#1a1a1a">5,786,000</text>
<text transform="translate(13.1,189.8) rotate(-90)" font-size="8.7" text-anchor="middle" textLength="40" lengthAdjust="spacingAndGlyphs" fill="#1a1a1a">5,785,800</text>
<text transform="translate(268.1,189.8) rotate(-90)" font-size="8.7" text-anchor="middle" textLength="40" lengthAdjust="spacingAndGlyphs" fill="#1a1a1a">5,785,800</text>
<text transform="translate(13.1,247.4) rotate(-90)" font-size="8.7" text-anchor="middle" textLength="40" lengthAdjust="spacingAndGlyphs" fill="#1a1a1a">5,785,600</text>
<text transform="translate(268.1,247.4) rotate(-90)" font-size="8.7" text-anchor="middle" textLength="40" lengthAdjust="spacingAndGlyphs" fill="#1a1a1a">5,785,600</text>
<text transform="translate(13.1,305) rotate(-90)" font-size="8.7" text-anchor="middle" textLength="40" lengthAdjust="spacingAndGlyphs" fill="#1a1a1a">5,785,400</text>
<text transform="translate(268.1,305) rotate(-90)" font-size="8.7" text-anchor="middle" textLength="40" lengthAdjust="spacingAndGlyphs" fill="#1a1a1a">5,785,400</text>
<rect x="20" y="20.5" width="235.6" height="338.7" fill="none" stroke="#1c1c1c" stroke-width="1.1"/>
<text x="22.2" y="29.4" font-size="9" textLength="11.2" lengthAdjust="spacingAndGlyphs" fill="#1a1a1a">(a)</text>
<rect x="233.5" y="20.5" width="22.1" height="40.8" fill="#fff" stroke="#1c1c1c" stroke-width="1.1"/>
<path d="M244.7,34.6L253,58.1L244.7,52.7L236.3,58.1Z" fill="#000"/>
<text x="244.7" y="29.2" font-size="8.3" text-anchor="middle" style="font-family:'Liberation Serif','Times New Roman',serif" fill="#1a1a1a">N</text>
<rect x="154.4" y="329.4" width="101.2" height="29.8" fill="#fff" stroke="#1c1c1c" stroke-width="1.1"/>
<rect x="159.9" y="336.4" width="81.4" height="5.9" fill="#000"/>
<rect x="180.8" y="337.2" width="19.9" height="4.3" fill="#fff"/>
<text x="160.5" y="355.3" font-size="10.3" text-anchor="middle" textLength="5.6" lengthAdjust="spacingAndGlyphs" fill="#1a1a1a">0</text>
<text x="180.2" y="355.3" font-size="10.3" text-anchor="middle" textLength="11.5" lengthAdjust="spacingAndGlyphs" fill="#1a1a1a">70</text>
<text x="200.6" y="355.3" font-size="10.3" text-anchor="middle" textLength="16.6" lengthAdjust="spacingAndGlyphs" fill="#1a1a1a">140</text>
<text x="241.3" y="355.3" font-size="10.3" text-anchor="middle" textLength="17.6" lengthAdjust="spacingAndGlyphs" fill="#1a1a1a">280</text>
<text x="244.5" y="341.9" font-size="10.3" textLength="7.8" lengthAdjust="spacingAndGlyphs" fill="#1a1a1a">m</text>
<rect x="20" y="237.7" width="84.7" height="121.5" fill="#fff" stroke="#1c1c1c" stroke-width="1.1"/>
<text x="22.6" y="248.8" font-size="8.2" textLength="27.3" lengthAdjust="spacingAndGlyphs" fill="#1a1a1a">Legend</text>
<rect x="23.1" y="256.4" width="11.9" height="5.5" rx="0.6" fill="#fff" stroke="#f0303a" stroke-width="1.1"/>
<text x="38.9" y="262.2" font-size="8.2" textLength="23.6" lengthAdjust="spacingAndGlyphs" fill="#1a1a1a">Extent</text>
<text x="22.6" y="275.6" font-size="8.2" textLength="20.8" lengthAdjust="spacingAndGlyphs" fill="#1a1a1a">Value</text>
<rect x="22.6" y="282.7" width="12.9" height="6.1" fill="#1a7a1f"/>
<text x="38.9" y="288.8" font-size="8.2" textLength="62.5" lengthAdjust="spacingAndGlyphs" fill="#1a1a1a">129.90 – 189.00</text>
<rect x="22.6" y="296" width="12.9" height="6.1" fill="#5da919"/>
<text x="38.9" y="302.1" font-size="8.2" textLength="62.5" lengthAdjust="spacingAndGlyphs" fill="#1a1a1a">189.01 – 229.51</text>
<rect x="22.6" y="309.3" width="12.9" height="6.1" fill="#b2de14"/>
<text x="38.9" y="315.4" font-size="8.2" textLength="62.5" lengthAdjust="spacingAndGlyphs" fill="#1a1a1a">229.51 – 268.91</text>
<rect x="22.6" y="322.5" width="12.9" height="6.1" fill="#ffdc17"/>
<text x="38.9" y="328.6" font-size="8.2" textLength="62.5" lengthAdjust="spacingAndGlyphs" fill="#1a1a1a">268.92 – 306.12</text>
<rect x="22.6" y="335.8" width="12.9" height="6.1" fill="#ff9717"/>
<text x="38.9" y="341.9" font-size="8.2" textLength="62.5" lengthAdjust="spacingAndGlyphs" fill="#1a1a1a">306.13 – 347.73</text>
<rect x="22.6" y="349.1" width="12.9" height="6.1" fill="#ff421d"/>
<text x="38.9" y="355.2" font-size="8.2" textLength="62.5" lengthAdjust="spacingAndGlyphs" fill="#1a1a1a">347.74 – 409.03</text>
<path d="M317.4,20.4v-4.6M317.4,359.2v4.6" stroke="#4a4a4a" stroke-width="0.8" fill="none"/>
<path d="M374.9,20.4v-4.6M374.9,359.2v4.6" stroke="#4a4a4a" stroke-width="0.8" fill="none"/>
<path d="M432.5,20.4v-4.6M432.5,359.2v4.6" stroke="#4a4a4a" stroke-width="0.8" fill="none"/>
<path d="M490.1,20.4v-4.6M490.1,359.2v4.6" stroke="#4a4a4a" stroke-width="0.8" fill="none"/>
<path d="M288.3,75.8h-4.6M524.1,75.8h4.6" stroke="#4a4a4a" stroke-width="0.8" fill="none"/>
<path d="M288.3,133.4h-4.6M524.1,133.4h4.6" stroke="#4a4a4a" stroke-width="0.8" fill="none"/>
<path d="M288.3,191h-4.6M524.1,191h4.6" stroke="#4a4a4a" stroke-width="0.8" fill="none"/>
<path d="M288.3,248.6h-4.6M524.1,248.6h4.6" stroke="#4a4a4a" stroke-width="0.8" fill="none"/>
<path d="M288.3,306.2h-4.6M524.1,306.2h4.6" stroke="#4a4a4a" stroke-width="0.8" fill="none"/>
<text x="317.4" y="14.1" font-size="8.8" text-anchor="middle" textLength="39.8" lengthAdjust="spacingAndGlyphs" fill="#1a1a1a">1,907,800</text>
<text x="317.4" y="372" font-size="8.8" text-anchor="middle" textLength="39.8" lengthAdjust="spacingAndGlyphs" fill="#1a1a1a">1,907,800</text>
<text x="374.9" y="14.1" font-size="8.8" text-anchor="middle" textLength="39.8" lengthAdjust="spacingAndGlyphs" fill="#1a1a1a">1,908,000</text>
<text x="374.9" y="372" font-size="8.8" text-anchor="middle" textLength="39.8" lengthAdjust="spacingAndGlyphs" fill="#1a1a1a">1,908,000</text>
<text x="432.5" y="14.1" font-size="8.8" text-anchor="middle" textLength="39.8" lengthAdjust="spacingAndGlyphs" fill="#1a1a1a">1,908,200</text>
<text x="432.5" y="372" font-size="8.8" text-anchor="middle" textLength="39.8" lengthAdjust="spacingAndGlyphs" fill="#1a1a1a">1,908,200</text>
<text x="490.1" y="14.1" font-size="8.8" text-anchor="middle" textLength="39.8" lengthAdjust="spacingAndGlyphs" fill="#1a1a1a">1,908,400</text>
<text x="490.1" y="372" font-size="8.8" text-anchor="middle" textLength="39.8" lengthAdjust="spacingAndGlyphs" fill="#1a1a1a">1,908,400</text>
<text transform="translate(282.8,75.8) rotate(-90)" font-size="8.7" text-anchor="middle" textLength="40" lengthAdjust="spacingAndGlyphs" fill="#1a1a1a">5,786,200</text>
<text transform="translate(536.8,75.8) rotate(-90)" font-size="8.7" text-anchor="middle" textLength="40" lengthAdjust="spacingAndGlyphs" fill="#1a1a1a">5,786,200</text>
<text transform="translate(282.8,133.4) rotate(-90)" font-size="8.7" text-anchor="middle" textLength="40" lengthAdjust="spacingAndGlyphs" fill="#1a1a1a">5,786,000</text>
<text transform="translate(536.8,133.4) rotate(-90)" font-size="8.7" text-anchor="middle" textLength="40" lengthAdjust="spacingAndGlyphs" fill="#1a1a1a">5,786,000</text>
<text transform="translate(282.8,191) rotate(-90)" font-size="8.7" text-anchor="middle" textLength="40" lengthAdjust="spacingAndGlyphs" fill="#1a1a1a">5,785,800</text>
<text transform="translate(536.8,191) rotate(-90)" font-size="8.7" text-anchor="middle" textLength="40" lengthAdjust="spacingAndGlyphs" fill="#1a1a1a">5,785,800</text>
<text transform="translate(282.8,248.6) rotate(-90)" font-size="8.7" text-anchor="middle" textLength="40" lengthAdjust="spacingAndGlyphs" fill="#1a1a1a">5,785,600</text>
<text transform="translate(536.8,248.6) rotate(-90)" font-size="8.7" text-anchor="middle" textLength="40" lengthAdjust="spacingAndGlyphs" fill="#1a1a1a">5,785,600</text>
<text transform="translate(282.8,306.2) rotate(-90)" font-size="8.7" text-anchor="middle" textLength="40" lengthAdjust="spacingAndGlyphs" fill="#1a1a1a">5,785,400</text>
<text transform="translate(536.8,306.2) rotate(-90)" font-size="8.7" text-anchor="middle" textLength="40" lengthAdjust="spacingAndGlyphs" fill="#1a1a1a">5,785,400</text>
<rect x="288.3" y="20.4" width="235.8" height="338.8" fill="none" stroke="#1c1c1c" stroke-width="1.1"/>
<text x="290.5" y="29.3" font-size="9" textLength="11.2" lengthAdjust="spacingAndGlyphs" fill="#1a1a1a">(b)</text>
<rect x="501.3" y="20.4" width="22.8" height="41" fill="#fff" stroke="#1c1c1c" stroke-width="1.1"/>
<path d="M512.8,34.5L521.1,58L512.8,52.6L504.5,58Z" fill="#000"/>
<text x="512.8" y="29.1" font-size="8.3" text-anchor="middle" style="font-family:'Liberation Serif','Times New Roman',serif" fill="#1a1a1a">N</text>
<rect x="423" y="329.4" width="101.1" height="29.8" fill="#fff" stroke="#1c1c1c" stroke-width="1.1"/>
<rect x="428.5" y="336.4" width="81.4" height="5.9" fill="#000"/>
<rect x="449.4" y="337.2" width="19.9" height="4.3" fill="#fff"/>
<text x="429.1" y="355.3" font-size="10.3" text-anchor="middle" textLength="5.6" lengthAdjust="spacingAndGlyphs" fill="#1a1a1a">0</text>
<text x="448.9" y="355.3" font-size="10.3" text-anchor="middle" textLength="11.5" lengthAdjust="spacingAndGlyphs" fill="#1a1a1a">70</text>
<text x="469.2" y="355.3" font-size="10.3" text-anchor="middle" textLength="16.6" lengthAdjust="spacingAndGlyphs" fill="#1a1a1a">140</text>
<text x="509.9" y="355.3" font-size="10.3" text-anchor="middle" textLength="17.6" lengthAdjust="spacingAndGlyphs" fill="#1a1a1a">280</text>
<text x="513.1" y="341.9" font-size="10.3" textLength="7.8" lengthAdjust="spacingAndGlyphs" fill="#1a1a1a">m</text>
<rect x="288.3" y="273.6" width="48.2" height="85.6" fill="#fff" stroke="#1c1c1c" stroke-width="1.1"/>
<text x="290.9" y="285.4" font-size="8.8" textLength="29" lengthAdjust="spacingAndGlyphs" fill="#1a1a1a">Legend</text>
<rect x="291.4" y="292.8" width="12.4" height="5.9" rx="0.6" fill="#fff" stroke="#f0303a" stroke-width="1.1"/>
<text x="307.7" y="299" font-size="8.8" textLength="25.2" lengthAdjust="spacingAndGlyphs" fill="#1a1a1a">Extent</text>
<text x="290.9" y="313.2" font-size="8.8" textLength="21.1" lengthAdjust="spacingAndGlyphs" fill="#1a1a1a">Cr EF</text>
<text x="290.9" y="326.8" font-size="8.8" textLength="21.9" lengthAdjust="spacingAndGlyphs" fill="#1a1a1a">Value</text>
<rect x="290.9" y="334.5" width="13.4" height="6.5" fill="#1a7a1f"/>
<text x="307.7" y="341" font-size="8.8" textLength="13.3" lengthAdjust="spacingAndGlyphs" fill="#1a1a1a">&lt; 2</text>
<rect x="290.9" y="348.5" width="13.4" height="6.5" fill="#7bb807"/>
<text x="307.7" y="355" font-size="8.8" textLength="19.9" lengthAdjust="spacingAndGlyphs" fill="#1a1a1a">2 – 5</text>
<path d="M49.6,417.7v-4.6M49.6,755.8v4.6" stroke="#4a4a4a" stroke-width="0.8" fill="none"/>
<path d="M107.1,417.7v-4.6M107.1,755.8v4.6" stroke="#4a4a4a" stroke-width="0.8" fill="none"/>
<path d="M164.7,417.7v-4.6M164.7,755.8v4.6" stroke="#4a4a4a" stroke-width="0.8" fill="none"/>
<path d="M222.3,417.7v-4.6M222.3,755.8v4.6" stroke="#4a4a4a" stroke-width="0.8" fill="none"/>
<path d="M20,472.6h-4.6M255.2,472.6h4.6" stroke="#4a4a4a" stroke-width="0.8" fill="none"/>
<path d="M20,530.4h-4.6M255.2,530.4h4.6" stroke="#4a4a4a" stroke-width="0.8" fill="none"/>
<path d="M20,588.1h-4.6M255.2,588.1h4.6" stroke="#4a4a4a" stroke-width="0.8" fill="none"/>
<path d="M20,645.9h-4.6M255.2,645.9h4.6" stroke="#4a4a4a" stroke-width="0.8" fill="none"/>
<path d="M20,703.6h-4.6M255.2,703.6h4.6" stroke="#4a4a4a" stroke-width="0.8" fill="none"/>
<text x="49.6" y="410.6" font-size="8.8" text-anchor="middle" textLength="39.8" lengthAdjust="spacingAndGlyphs" fill="#1a1a1a">1,907,800</text>
<text x="49.6" y="769.1" font-size="8.8" text-anchor="middle" textLength="39.8" lengthAdjust="spacingAndGlyphs" fill="#1a1a1a">1,907,800</text>
<text x="107.1" y="410.6" font-size="8.8" text-anchor="middle" textLength="39.8" lengthAdjust="spacingAndGlyphs" fill="#1a1a1a">1,908,000</text>
<text x="107.1" y="769.1" font-size="8.8" text-anchor="middle" textLength="39.8" lengthAdjust="spacingAndGlyphs" fill="#1a1a1a">1,908,000</text>
<text x="164.7" y="410.6" font-size="8.8" text-anchor="middle" textLength="39.8" lengthAdjust="spacingAndGlyphs" fill="#1a1a1a">1,908,200</text>
<text x="164.7" y="769.1" font-size="8.8" text-anchor="middle" textLength="39.8" lengthAdjust="spacingAndGlyphs" fill="#1a1a1a">1,908,200</text>
<text x="222.3" y="410.6" font-size="8.8" text-anchor="middle" textLength="39.8" lengthAdjust="spacingAndGlyphs" fill="#1a1a1a">1,908,400</text>
<text x="222.3" y="769.1" font-size="8.8" text-anchor="middle" textLength="39.8" lengthAdjust="spacingAndGlyphs" fill="#1a1a1a">1,908,400</text>
<text transform="translate(12.9,472.6) rotate(-90)" font-size="8.7" text-anchor="middle" textLength="40" lengthAdjust="spacingAndGlyphs" fill="#1a1a1a">5,786,200</text>
<text transform="translate(268,472.6) rotate(-90)" font-size="8.7" text-anchor="middle" textLength="40" lengthAdjust="spacingAndGlyphs" fill="#1a1a1a">5,786,200</text>
<text transform="translate(12.9,530.4) rotate(-90)" font-size="8.7" text-anchor="middle" textLength="40" lengthAdjust="spacingAndGlyphs" fill="#1a1a1a">5,786,000</text>
<text transform="translate(268,530.4) rotate(-90)" font-size="8.7" text-anchor="middle" textLength="40" lengthAdjust="spacingAndGlyphs" fill="#1a1a1a">5,786,000</text>
<text transform="translate(12.9,588.1) rotate(-90)" font-size="8.7" text-anchor="middle" textLength="40" lengthAdjust="spacingAndGlyphs" fill="#1a1a1a">5,785,800</text>
<text transform="translate(268,588.1) rotate(-90)" font-size="8.7" text-anchor="middle" textLength="40" lengthAdjust="spacingAndGlyphs" fill="#1a1a1a">5,785,800</text>
<text transform="translate(12.9,645.9) rotate(-90)" font-size="8.7" text-anchor="middle" textLength="40" lengthAdjust="spacingAndGlyphs" fill="#1a1a1a">5,785,600</text>
<text transform="translate(268,645.9) rotate(-90)" font-size="8.7" text-anchor="middle" textLength="40" lengthAdjust="spacingAndGlyphs" fill="#1a1a1a">5,785,600</text>
<text transform="translate(12.9,703.6) rotate(-90)" font-size="8.7" text-anchor="middle" textLength="40" lengthAdjust="spacingAndGlyphs" fill="#1a1a1a">5,785,400</text>
<text transform="translate(268,703.6) rotate(-90)" font-size="8.7" text-anchor="middle" textLength="40" lengthAdjust="spacingAndGlyphs" fill="#1a1a1a">5,785,400</text>
<rect x="20" y="417.7" width="235.2" height="338.1" fill="none" stroke="#1c1c1c" stroke-width="1.1"/>
<text x="22.2" y="426.6" font-size="9" textLength="11.2" lengthAdjust="spacingAndGlyphs" fill="#1a1a1a">(c)</text>
<rect x="233" y="417.7" width="22.2" height="40.9" fill="#fff" stroke="#1c1c1c" stroke-width="1.1"/>
<path d="M244.2,431.8L252.5,455.3L244.2,449.9L235.9,455.3Z" fill="#000"/>
<text x="244.2" y="426.4" font-size="8.3" text-anchor="middle" style="font-family:'Liberation Serif','Times New Roman',serif" fill="#1a1a1a">N</text>
<rect x="154.2" y="726" width="101" height="29.8" fill="#fff" stroke="#1c1c1c" stroke-width="1.1"/>
<rect x="159.7" y="733" width="81.4" height="5.9" fill="#000"/>
<rect x="180.5" y="733.8" width="19.9" height="4.3" fill="#fff"/>
<text x="160.3" y="751.9" font-size="10.3" text-anchor="middle" textLength="5.6" lengthAdjust="spacingAndGlyphs" fill="#1a1a1a">0</text>
<text x="180" y="751.9" font-size="10.3" text-anchor="middle" textLength="11.5" lengthAdjust="spacingAndGlyphs" fill="#1a1a1a">70</text>
<text x="200.4" y="751.9" font-size="10.3" text-anchor="middle" textLength="16.6" lengthAdjust="spacingAndGlyphs" fill="#1a1a1a">140</text>
<text x="241.1" y="751.9" font-size="10.3" text-anchor="middle" textLength="17.6" lengthAdjust="spacingAndGlyphs" fill="#1a1a1a">280</text>
<text x="244.3" y="738.5" font-size="10.3" textLength="7.8" lengthAdjust="spacingAndGlyphs" fill="#1a1a1a">m</text>
<rect x="20" y="663.5" width="51.7" height="92.3" fill="#fff" stroke="#1c1c1c" stroke-width="1.1"/>
<text x="22.6" y="676.1" font-size="9.4" textLength="31.5" lengthAdjust="spacingAndGlyphs" fill="#1a1a1a">Legend</text>
<rect x="23.1" y="684.5" width="13.4" height="6.2" rx="0.6" fill="#fff" stroke="#f0303a" stroke-width="1.1"/>
<text x="41" y="691" font-size="9.4" textLength="27.1" lengthAdjust="spacingAndGlyphs" fill="#1a1a1a">Extent</text>
<text x="22.6" y="706.2" font-size="9.4" textLength="23.2" lengthAdjust="spacingAndGlyphs" fill="#1a1a1a">Cr CF</text>
<text x="22.6" y="721.3" font-size="9.4" textLength="23.5" lengthAdjust="spacingAndGlyphs" fill="#1a1a1a">Value</text>
<rect x="22.6" y="729.6" width="14.4" height="6.8" fill="#9bcf1e"/>
<text x="41" y="736.4" font-size="9.4" textLength="21.2" lengthAdjust="spacingAndGlyphs" fill="#1a1a1a">1 – 3</text>
<rect x="22.6" y="744.6" width="14.4" height="6.8" fill="#ffc40f"/>
<text x="41" y="751.4" font-size="9.4" textLength="21.4" lengthAdjust="spacingAndGlyphs" fill="#1a1a1a">3 – 6</text>
<path d="M317.2,417.7v-4.6M317.2,755.7v4.6" stroke="#4a4a4a" stroke-width="0.8" fill="none"/>
<path d="M375,417.7v-4.6M375,755.7v4.6" stroke="#4a4a4a" stroke-width="0.8" fill="none"/>
<path d="M432.8,417.7v-4.6M432.8,755.7v4.6" stroke="#4a4a4a" stroke-width="0.8" fill="none"/>
<path d="M490.7,417.7v-4.6M490.7,755.7v4.6" stroke="#4a4a4a" stroke-width="0.8" fill="none"/>
<path d="M288,471.8h-4.6M524,471.8h4.6" stroke="#4a4a4a" stroke-width="0.8" fill="none"/>
<path d="M288,529.5h-4.6M524,529.5h4.6" stroke="#4a4a4a" stroke-width="0.8" fill="none"/>
<path d="M288,587.2h-4.6M524,587.2h4.6" stroke="#4a4a4a" stroke-width="0.8" fill="none"/>
<path d="M288,644.9h-4.6M524,644.9h4.6" stroke="#4a4a4a" stroke-width="0.8" fill="none"/>
<path d="M288,702.6h-4.6M524,702.6h4.6" stroke="#4a4a4a" stroke-width="0.8" fill="none"/>
<text x="317.2" y="410.6" font-size="8.8" text-anchor="middle" textLength="39.8" lengthAdjust="spacingAndGlyphs" fill="#1a1a1a">1,907,800</text>
<text x="317.2" y="769.1" font-size="8.8" text-anchor="middle" textLength="39.8" lengthAdjust="spacingAndGlyphs" fill="#1a1a1a">1,907,800</text>
<text x="375" y="410.6" font-size="8.8" text-anchor="middle" textLength="39.8" lengthAdjust="spacingAndGlyphs" fill="#1a1a1a">1,908,000</text>
<text x="375" y="769.1" font-size="8.8" text-anchor="middle" textLength="39.8" lengthAdjust="spacingAndGlyphs" fill="#1a1a1a">1,908,000</text>
<text x="432.8" y="410.6" font-size="8.8" text-anchor="middle" textLength="39.8" lengthAdjust="spacingAndGlyphs" fill="#1a1a1a">1,908,200</text>
<text x="432.8" y="769.1" font-size="8.8" text-anchor="middle" textLength="39.8" lengthAdjust="spacingAndGlyphs" fill="#1a1a1a">1,908,200</text>
<text x="490.7" y="410.6" font-size="8.8" text-anchor="middle" textLength="39.8" lengthAdjust="spacingAndGlyphs" fill="#1a1a1a">1,908,400</text>
<text x="490.7" y="769.1" font-size="8.8" text-anchor="middle" textLength="39.8" lengthAdjust="spacingAndGlyphs" fill="#1a1a1a">1,908,400</text>
<text transform="translate(281,471.8) rotate(-90)" font-size="8.7" text-anchor="middle" textLength="40" lengthAdjust="spacingAndGlyphs" fill="#1a1a1a">5,786,200</text>
<text transform="translate(536.6,471.8) rotate(-90)" font-size="8.7" text-anchor="middle" textLength="40" lengthAdjust="spacingAndGlyphs" fill="#1a1a1a">5,786,200</text>
<text transform="translate(281,529.5) rotate(-90)" font-size="8.7" text-anchor="middle" textLength="40" lengthAdjust="spacingAndGlyphs" fill="#1a1a1a">5,786,000</text>
<text transform="translate(536.6,529.5) rotate(-90)" font-size="8.7" text-anchor="middle" textLength="40" lengthAdjust="spacingAndGlyphs" fill="#1a1a1a">5,786,000</text>
<text transform="translate(281,587.2) rotate(-90)" font-size="8.7" text-anchor="middle" textLength="40" lengthAdjust="spacingAndGlyphs" fill="#1a1a1a">5,785,800</text>
<text transform="translate(536.6,587.2) rotate(-90)" font-size="8.7" text-anchor="middle" textLength="40" lengthAdjust="spacingAndGlyphs" fill="#1a1a1a">5,785,800</text>
<text transform="translate(281,644.9) rotate(-90)" font-size="8.7" text-anchor="middle" textLength="40" lengthAdjust="spacingAndGlyphs" fill="#1a1a1a">5,785,600</text>
<text transform="translate(536.6,644.9) rotate(-90)" font-size="8.7" text-anchor="middle" textLength="40" lengthAdjust="spacingAndGlyphs" fill="#1a1a1a">5,785,600</text>
<text transform="translate(281,702.6) rotate(-90)" font-size="8.7" text-anchor="middle" textLength="40" lengthAdjust="spacingAndGlyphs" fill="#1a1a1a">5,785,400</text>
<text transform="translate(536.6,702.6) rotate(-90)" font-size="8.7" text-anchor="middle" textLength="40" lengthAdjust="spacingAndGlyphs" fill="#1a1a1a">5,785,400</text>
<rect x="288" y="417.7" width="236" height="338" fill="none" stroke="#1c1c1c" stroke-width="1.1"/>
<text x="290.2" y="426.6" font-size="9" textLength="11.2" lengthAdjust="spacingAndGlyphs" fill="#1a1a1a">(d)</text>
<rect x="501.4" y="417.7" width="22.6" height="40.9" fill="#fff" stroke="#1c1c1c" stroke-width="1.1"/>
<path d="M512.8,431.8L521.1,455.3L512.8,449.9L504.5,455.3Z" fill="#000"/>
<text x="512.8" y="426.4" font-size="8.3" text-anchor="middle" style="font-family:'Liberation Serif','Times New Roman',serif" fill="#1a1a1a">N</text>
<rect x="422.7" y="726" width="101.3" height="29.7" fill="#fff" stroke="#1c1c1c" stroke-width="1.1"/>
<rect x="428.2" y="733" width="81.4" height="5.9" fill="#000"/>
<rect x="449.1" y="733.8" width="19.9" height="4.3" fill="#fff"/>
<text x="428.8" y="751.9" font-size="10.3" text-anchor="middle" textLength="5.6" lengthAdjust="spacingAndGlyphs" fill="#1a1a1a">0</text>
<text x="448.6" y="751.9" font-size="10.3" text-anchor="middle" textLength="11.5" lengthAdjust="spacingAndGlyphs" fill="#1a1a1a">70</text>
<text x="468.9" y="751.9" font-size="10.3" text-anchor="middle" textLength="16.6" lengthAdjust="spacingAndGlyphs" fill="#1a1a1a">140</text>
<text x="509.6" y="751.9" font-size="10.3" text-anchor="middle" textLength="17.6" lengthAdjust="spacingAndGlyphs" fill="#1a1a1a">280</text>
<text x="512.8" y="738.5" font-size="10.3" textLength="7.8" lengthAdjust="spacingAndGlyphs" fill="#1a1a1a">m</text>
<rect x="288" y="666.5" width="50.7" height="89.2" fill="#fff" stroke="#1c1c1c" stroke-width="1.1"/>
<text x="291.1" y="678.3" font-size="9.2" textLength="30.6" lengthAdjust="spacingAndGlyphs" fill="#1a1a1a">Legend</text>
<rect x="291.6" y="686.8" width="12.9" height="6" rx="0.6" fill="#fff" stroke="#f0303a" stroke-width="1.1"/>
<text x="308.6" y="693.1" font-size="9.2" textLength="26.6" lengthAdjust="spacingAndGlyphs" fill="#1a1a1a">Extent</text>
<text x="291.1" y="707.5" font-size="9.2" textLength="31" lengthAdjust="spacingAndGlyphs" fill="#1a1a1a">Cr Igeo</text>
<text x="291.1" y="722.2" font-size="9.2" textLength="22.7" lengthAdjust="spacingAndGlyphs" fill="#1a1a1a">Value</text>
<rect x="291.1" y="730" width="13.9" height="6.6" fill="#5da919"/>
<text x="308.6" y="736.6" font-size="9.2" textLength="19" lengthAdjust="spacingAndGlyphs" fill="#1a1a1a">0 - 1</text>
<rect x="291.1" y="745" width="13.9" height="6.6" fill="#a6d412"/>
<text x="308.6" y="751.6" font-size="9.2" textLength="20.9" lengthAdjust="spacingAndGlyphs" fill="#1a1a1a">1 – 2</text>
</svg></body></html>
